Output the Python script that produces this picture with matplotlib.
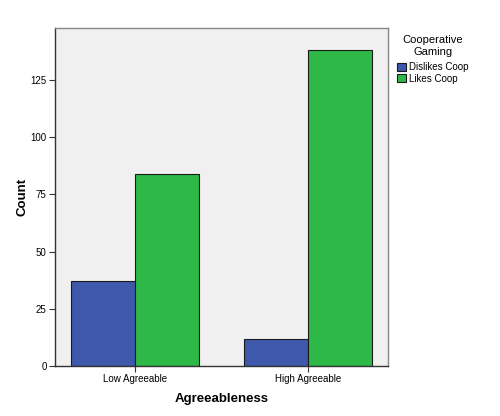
import matplotlib
matplotlib.use('Agg')
import matplotlib.pyplot as plt
import numpy as np

## data
categories = ['Low Agreeable', 'High Agreeable']
dislikes = [37, 12]
likes = [84, 138]
series_names = ['Dislikes Coop', 'Likes Coop']
yticks = [0, 25, 50, 75, 100, 125]

plt.rcParams['font.family'] = ['Liberation Sans', 'DejaVu Sans']

fig = plt.figure(figsize=(5, 4.16), dpi=100)
ax = fig.add_axes([0.11, 0.12, 0.666, 0.813])
ax.set_facecolor('#f0f0f0')

x = np.arange(len(categories))
w = 0.37
ax.bar(x - w/2, dislikes, w, color='#3e58ac', edgecolor='#1a1a1a', linewidth=0.8, label=series_names[0])
ax.bar(x + w/2, likes, w, color='#2eb848', edgecolor='#1a1a1a', linewidth=0.8, label=series_names[1])

ax.set_xlim(-0.462, 1.462)
ax.set_ylim(0, 147.7)
ax.set_xticks(x)
ax.set_xticklabels(categories, fontsize=7)
ax.set_yticks(yticks)
ax.set_yticklabels([str(t) for t in yticks], fontsize=7)
ax.tick_params(length=4, width=0.8, color='#333333', pad=2)

for s in ['top', 'right']:
    ax.spines[s].set_color('#888888')
for s in ['left', 'bottom']:
    ax.spines[s].set_color('#333333')
for s in ax.spines.values():
    s.set_linewidth(1.0)

ax.set_xlabel('Agreeableness', fontsize=9.5, fontweight='bold', labelpad=6)
ax.set_ylabel('Count', fontsize=9.5, fontweight='bold', labelpad=1.5)

leg = fig.legend(title='Cooperative\nGaming', loc='upper left', bbox_to_anchor=(0.787, 0.925),
                 frameon=False, fontsize=7, title_fontsize=8, handlelength=0.9, handleheight=0.9,
                 handletextpad=0.3, borderaxespad=0, labelspacing=0.15)
leg.get_title().set_multialignment('center')
leg._legend_box.sep = 4

fig.savefig('out.png', dpi=100)
